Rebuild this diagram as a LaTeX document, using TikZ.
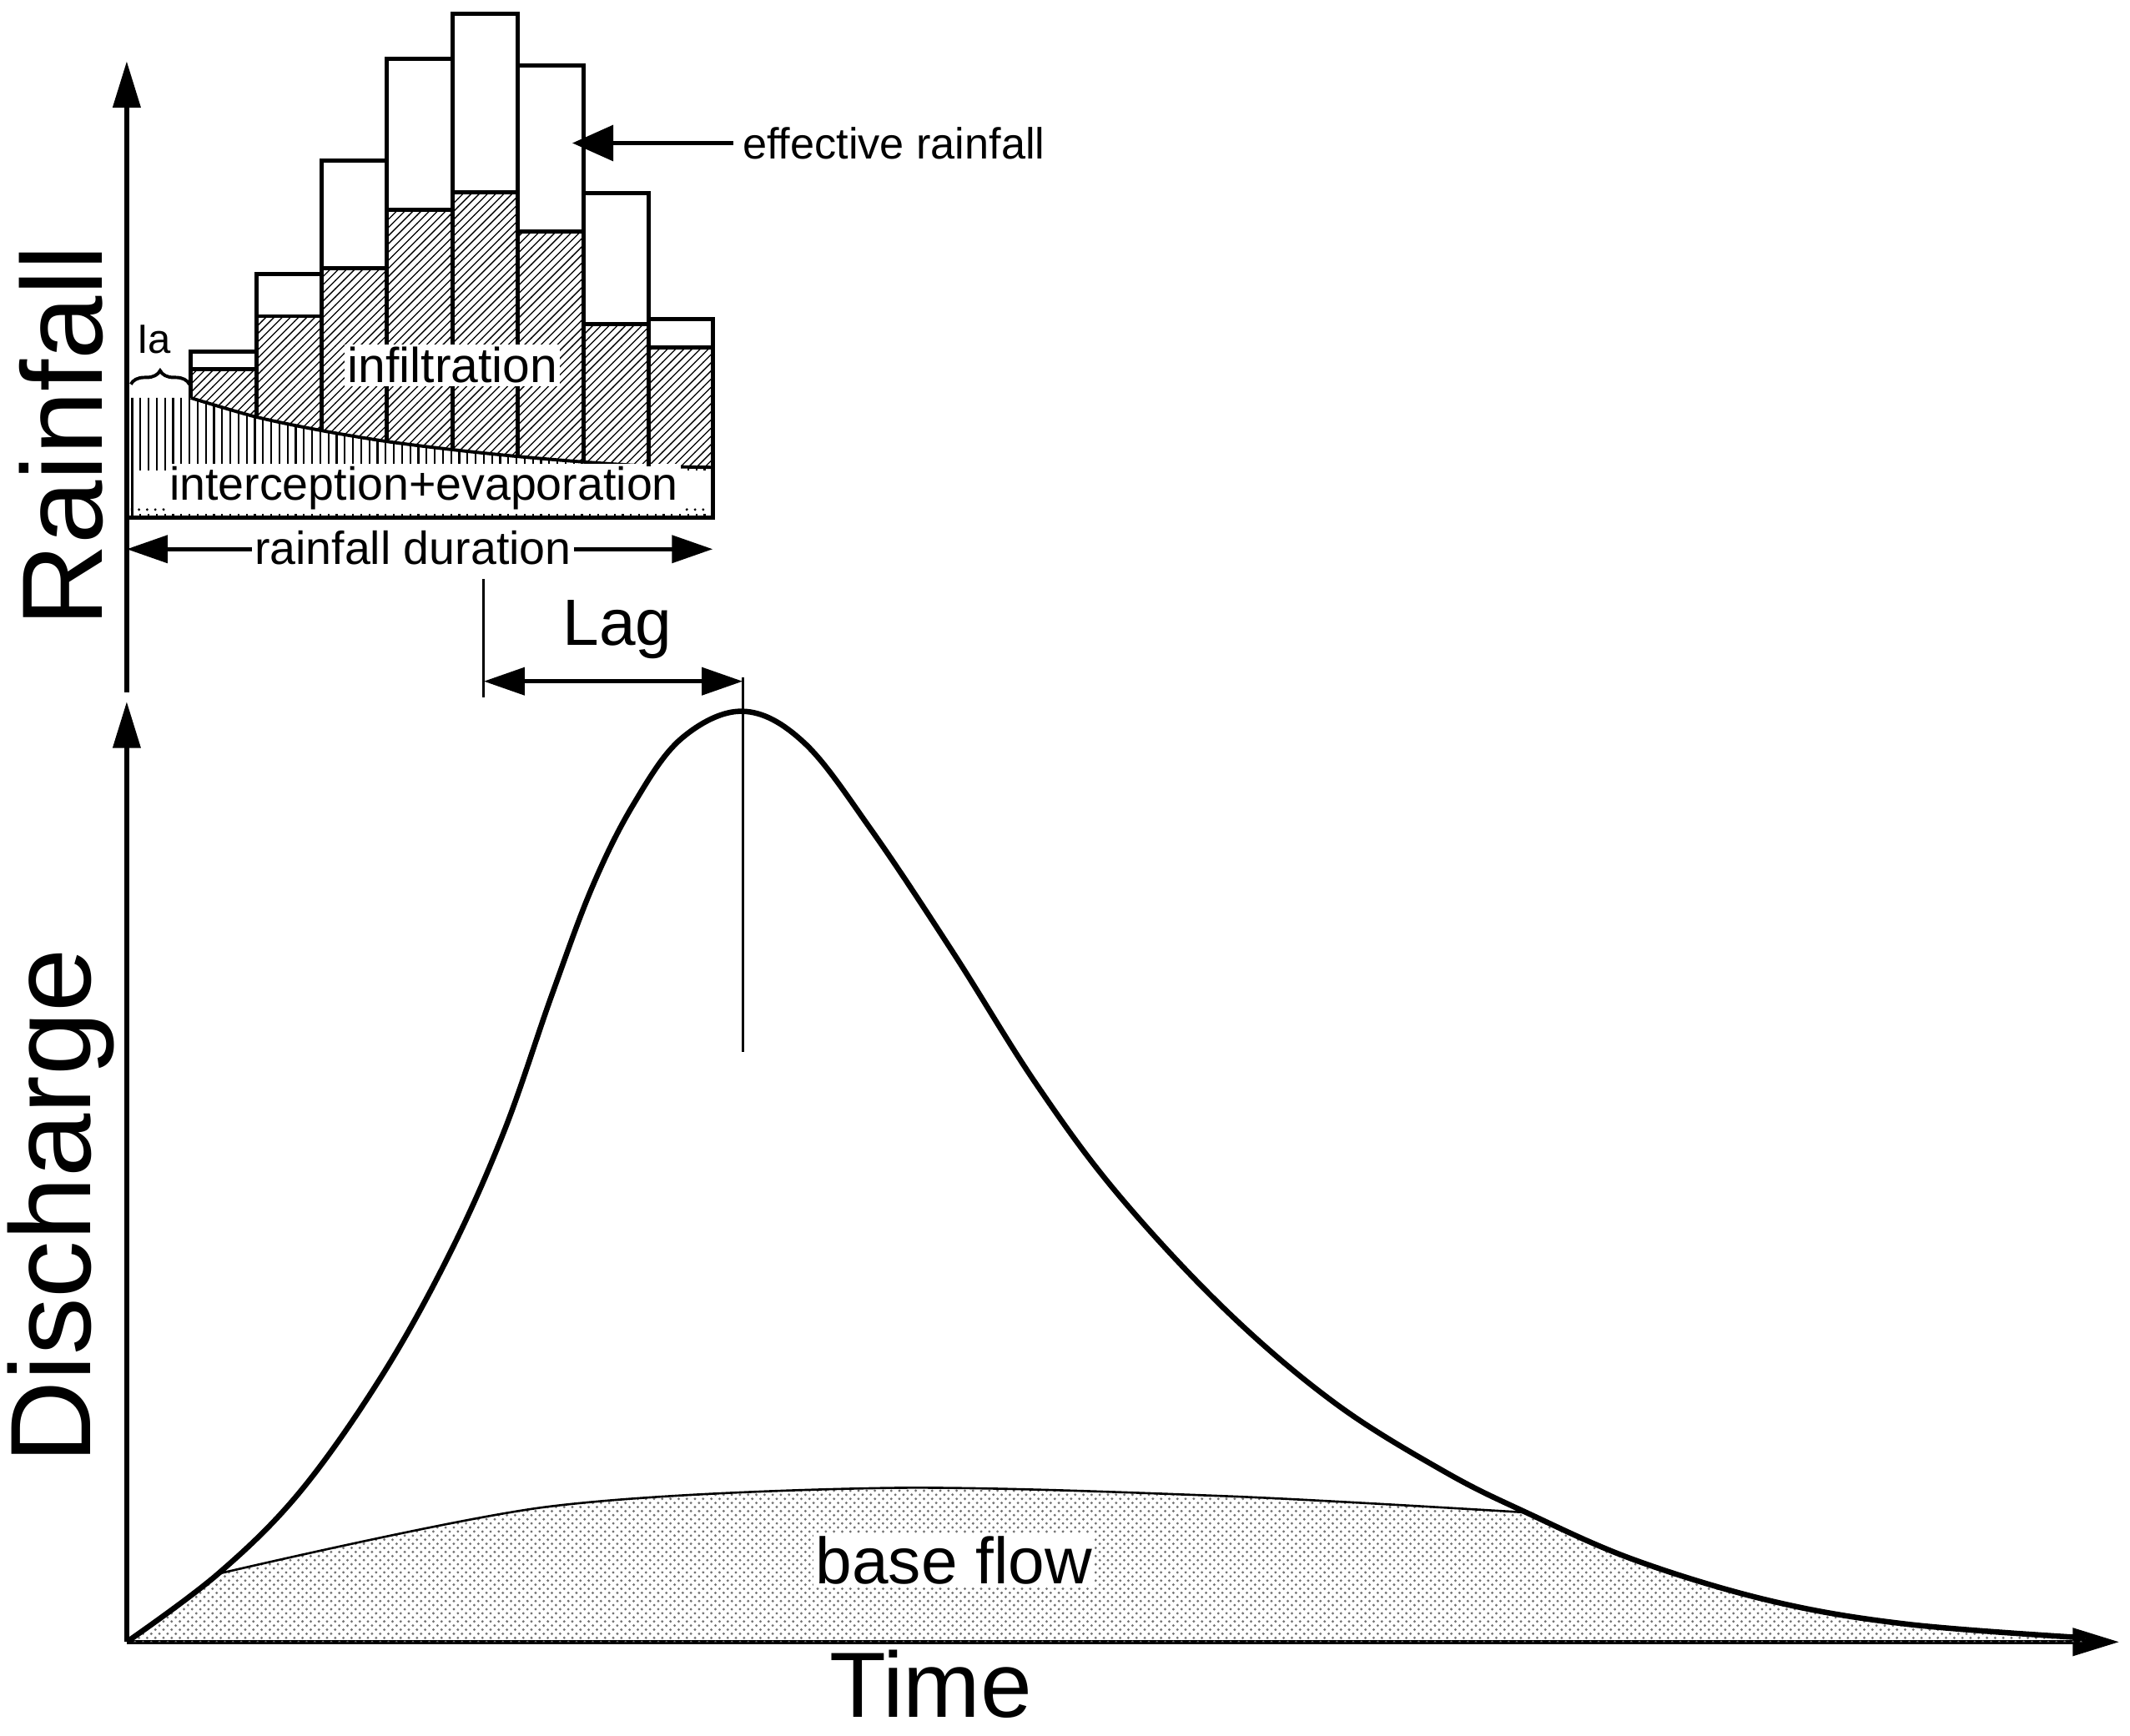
\documentclass[tikz,border=0pt]{standalone}
\usepackage{fontspec}
\setmainfont{Liberation Sans}
\usetikzlibrary{arrows.meta,patterns,decorations.pathreplacing}
\begin{document}
\begin{tikzpicture}[x=0.5pt,y=-0.5pt,
  ax/.style={line width=1.6pt,-{Triangle[length=17pt,width=10pt]}},
  dbl/.style={line width=1.5pt,{Triangle[length=15pt,width=10pt]}-{Triangle[length=15pt,width=10pt]}},
  bar/.style={line width=1.5pt},
  lbl/.style={inner sep=1pt}]
\useasboundingbox (0,0) rectangle (1563,1274);
% infiltration hatch
\fill[pattern=north east lines] (140,271) rectangle (188,380);
\fill[pattern=north east lines] (188,232) rectangle (236,380);
\fill[pattern=north east lines] (236,197) rectangle (284,380);
\fill[pattern=north east lines] (284,154) rectangle (332,380);
\fill[pattern=north east lines] (332,141) rectangle (380,380);
\fill[pattern=north east lines] (380,170) rectangle (428,380);
\fill[pattern=north east lines] (428,238) rectangle (476,380);
\fill[pattern=north east lines] (476,255) rectangle (523,380);
% interception region
\fill[white] (93,292) -- (140,292) -- plot[smooth] coordinates {(140,292)(188,306)(236,316)(284,324)(332,330)(380,335)(428,339)(476,342)(523,343)} -- (523,380) -- (93,380) -- cycle;
\begin{scope}
\clip (93,292) -- (140,292) -- plot[smooth] coordinates {(140,292)(188,306)(236,316)(284,324)(332,330)(380,335)(428,339)(476,342)(523,343)} -- (523,380) -- (93,380) -- cycle;
\foreach \xx in {97,103,...,523} \draw[line width=0.7pt] (\xx,285) -- (\xx,380);
\end{scope}
\draw[line width=1.2pt] plot[smooth] coordinates {(140,292)(188,306)(236,316)(284,324)(332,330)(380,335)(428,339)(476,342)(523,343)};
\fill[white] (100,345) rectangle (520,377);
\fill[pattern=dots] (96,370) rectangle (520,378);
\node[lbl,fill=white,font=\fontsize{17}{17}\selectfont] (ie) at (311,358) {interception+evaporation};
% bars
\draw[bar] (140,292) -- (140,258) -- (188,258) -- (188,306);
\draw[bar] (140,271) -- (188,271);
\draw[bar] (188,306) -- (188,201) -- (236,201) -- (236,316);
\draw[bar] (188,232) -- (236,232);
\draw[bar] (236,316) -- (236,118) -- (284,118) -- (284,324);
\draw[bar] (236,197) -- (284,197);
\draw[bar] (284,324) -- (284,43) -- (332,43) -- (332,330);
\draw[bar] (284,154) -- (332,154);
\draw[bar] (332,330) -- (332,10) -- (380,10) -- (380,335);
\draw[bar] (332,141) -- (380,141);
\draw[bar] (380,335) -- (380,48) -- (428,48) -- (428,339);
\draw[bar] (380,170) -- (428,170);
\draw[bar] (428,339) -- (428,142) -- (476,142) -- (476,342);
\draw[bar] (428,238) -- (476,238);
\draw[bar] (476,342) -- (476,234) -- (523,234) -- (523,380) -- (93,380);
\draw[bar] (476,255) -- (523,255);
\node[lbl,fill=white,font=\fontsize{18}{18}\selectfont] (inf) at (332,268) {infiltration};
% Ia
\draw[line width=1.2pt,decorate,decoration={brace,amplitude=5pt}] (96,282) -- (139,282);
\node[font=\fontsize{15}{15}\selectfont] (ia) at (113,249) {Ia};
% rainfall duration
\coordinate (rd1) at (93,403);
\coordinate (rd2) at (523,403);
\draw[dbl] (rd1) -- (rd2);
\node[lbl,fill=white,font=\fontsize{17}{17}\selectfont] (rd) at (303,402) {rainfall duration};
% effective rainfall
\node[anchor=west,font=\fontsize{16}{16}\selectfont] (er) at (538,105) {effective rainfall};
\coordinate (erp) at (420,105);
\draw[line width=1.5pt,-{Triangle[length=15pt,width=13pt]}] (er.west) -- (erp);
% axes
\coordinate (o) at (93,1205);
\coordinate (rtop) at (93,45);
\coordinate (rbot) at (93,508);
\coordinate (qtop) at (93,515);
\coordinate (tend) at (1555,1205);
\draw[ax] (rbot) -- (rtop);
\draw[ax] (o) -- (qtop);
\draw[ax] (o) -- (tend);
\node[rotate=90,font=\fontsize{42}{42}\selectfont] (rl) at (45,320) {Rainfall};
\node[rotate=90,font=\fontsize{42}{42}\selectfont] (dl) at (45,885) {Discharge};
\node[font=\fontsize{34}{34}\selectfont] (tl) at (683,1236) {Time};
% base flow
\begin{scope}
\clip plot[smooth,tension=0.6] coordinates {(93,1205)(160,1155)(220,1095)(280,1010)(330,920)(370,830)(405,730)(435,650)(465,590)(500,542)(545,522)(590,545)(640,610)(700,700)(760,795)(820,876)(900,962)(980,1030)(1060,1080)(1120,1110)(1200,1145)(1300,1175)(1400,1192)(1530,1202)} -- (1530,1205) -- cycle;
\fill[pattern=crosshatch dots,pattern color=black!55] (93,1205) -- (160,1155) -- plot[smooth] coordinates {(160,1155)(400,1106)(650,1092)(900,1098)(1120,1110)} -- (1560,1110) -- (1560,1205) -- cycle;
\end{scope}
\draw[line width=0.8pt] plot[smooth] coordinates {(160,1155)(400,1106)(650,1092)(900,1098)(1120,1110)};
\node[fill=white,inner sep=1pt,font=\fontsize{24}{24}\selectfont] (bf) at (700,1145) {base flow};
\draw[line width=2pt] plot[smooth,tension=0.6] coordinates {(93,1205)(160,1155)(220,1095)(280,1010)(330,920)(370,830)(405,730)(435,650)(465,590)(500,542)(545,522)(590,545)(640,610)(700,700)(760,795)(820,876)(900,962)(980,1030)(1060,1080)(1120,1110)(1200,1145)(1300,1175)(1400,1192)(1530,1202)};
% lag
\coordinate (l1t) at (355,425);
\coordinate (l1b) at (355,512);
\coordinate (l2t) at (545,497);
\coordinate (l2b) at (545,772);
\draw[line width=1pt] (l1t) -- (l1b);
\draw[line width=1pt] (l2t) -- (l2b);
\coordinate (la1) at (355,500);
\coordinate (la2) at (545,500);
\draw[dbl] (la1) -- (la2);
\node[font=\fontsize{24}{24}\selectfont] (lag) at (453,462) {Lag};
\end{tikzpicture}
\end{document}
